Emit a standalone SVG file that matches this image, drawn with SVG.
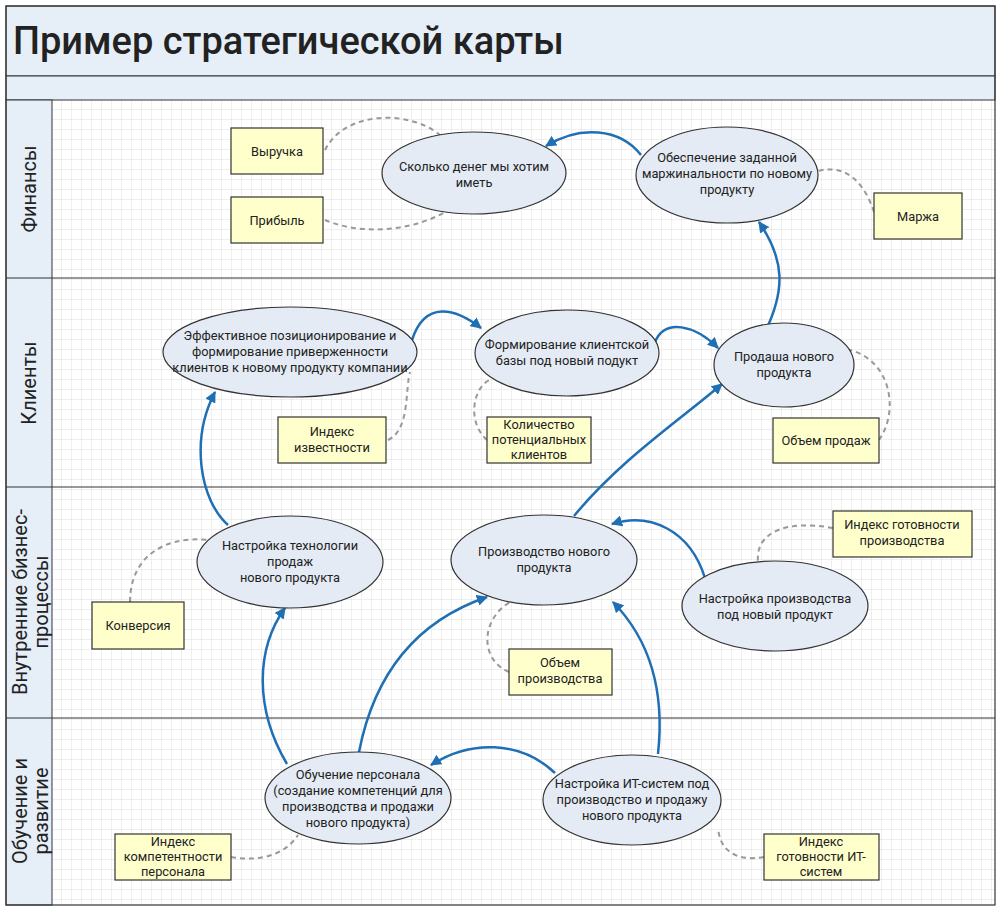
<svg xmlns="http://www.w3.org/2000/svg" width="1000" height="909" viewBox="0 0 1000 909">
<defs>
<pattern id="g" width="10" height="10" patternUnits="userSpaceOnUse" x="2" y="0"><path d="M10 0V10H0" fill="none" stroke="#d6d6d6" stroke-width="0.8"/></pattern>
<marker id="a" viewBox="0 0 10 10" refX="9" refY="5" markerWidth="4.5" markerHeight="4.5" orient="auto"><path d="M0 0L10 5L0 10z" fill="#1f6fb5"/></marker>
<style>
text{font-family:Roboto,"Liberation Sans",sans-serif;fill:#222;text-anchor:middle}
.n{font-size:12.8px}
.e{fill:#e4ebf4;stroke:#333;stroke-width:1.2}
.r{fill:#ffffcc;stroke:#333;stroke-width:1.2}
.b{fill:none;stroke:#1f6fb5;stroke-width:2.5;marker-end:url(#a)}
.d{fill:none;stroke:#999;stroke-width:2;stroke-dasharray:5 4}
.lane{font-size:20px}
</style>
</defs>
<rect width="1000" height="909" fill="#fff"/>
<rect x="52" y="100" width="943" height="805" fill="url(#g)"/>
<rect x="6" y="6" width="989" height="70" fill="#e6eef7" stroke="#333"/>
<rect x="6" y="76" width="989" height="24" fill="#e6eef7" stroke="#333"/>
<rect x="6" y="100" width="46" height="805" fill="#e6eef7" stroke="#333"/>
<rect x="6" y="6" width="989" height="899" fill="none" stroke="#333" stroke-width="1.2"/>
<g stroke="#333" stroke-width="1.2"><line x1="6" y1="278" x2="995" y2="278"/><line x1="6" y1="487" x2="995" y2="487"/><line x1="6" y1="718" x2="995" y2="718"/></g>
<text x="13" y="54" style="font-size:38px;font-weight:500;text-anchor:start">Пример стратегической карты</text>
<text class="lane" transform="translate(36,189) rotate(-90)">Финансы</text>
<text class="lane" transform="translate(36,383) rotate(-90)">Клиенты</text>
<text class="lane" transform="translate(27,602) rotate(-90)">Внутренние бизнес-</text>
<text class="lane" transform="translate(48,602) rotate(-90)">процессы</text>
<text class="lane" transform="translate(27,811) rotate(-90)">Обучение и</text>
<text class="lane" transform="translate(48,811) rotate(-90)">развитие</text>
<g id="connectors">
<path class="b" d="M641,155 C620,128 580,125 546,146"/>
<path class="b" d="M766,330 C785,290 785,260 759,222"/>
<path class="b" d="M412,340 C425,300 455,308 481,328"/>
<path class="b" d="M655,342 C665,318 695,325 718,348"/>
<path class="b" d="M228,525 C200,500 190,440 215,392"/>
<path class="b" d="M574,516 C620,460 680,420 722,384"/>
<path class="b" d="M705,578 C690,530 650,512 612,524"/>
<path class="b" d="M287,764 C255,710 255,650 285,608"/>
<path class="b" d="M359,752 C375,670 420,620 487,597"/>
<path class="b" d="M658,754 C665,690 650,640 613,602"/>
<path class="b" d="M555,773 C520,740 470,740 431,765"/>
<path class="d" d="M325,150 C345,110 410,110 440,135"/>
<path class="d" d="M325,220 C360,235 410,232 445,212"/>
<path class="d" d="M874,212 C860,170 835,165 815,172"/>
<path class="d" d="M388,440 C410,430 405,390 410,372"/>
<path class="d" d="M487,440 C465,420 475,385 490,380"/>
<path class="d" d="M879,440 C900,410 890,360 850,350"/>
<path class="d" d="M833,528 C790,520 755,530 758,562"/>
<path class="d" d="M130,602 C130,560 160,535 210,540"/>
<path class="d" d="M509,672 C480,660 480,620 510,602"/>
<path class="d" d="M231,857 C260,862 285,855 298,835"/>
<path class="d" d="M764,857 C735,862 720,850 718,828"/>
</g>
<g id="n1"><ellipse class="e" cx="474" cy="173" rx="92" ry="41"/><text class="n" x="474" y="171">Сколько денег мы хотим</text><text class="n" x="474" y="187">иметь</text></g>
<g id="n2"><ellipse class="e" cx="727" cy="175" rx="91" ry="48"/><text class="n" x="727" y="162">Обеспечение заданной</text><text class="n" x="727" y="178">маржинальности по новому</text><text class="n" x="727" y="194">продукту</text></g>
<g id="n3"><ellipse class="e" cx="290" cy="352" rx="127" ry="45"/><text class="n" x="290" y="340">Эффективное позиционирование и</text><text class="n" x="290" y="356">формирование приверженности</text><text class="n" x="290" y="372">клиентов к новому продукту компании</text></g>
<g id="n4"><ellipse class="e" cx="567" cy="353" rx="92" ry="43"/><text class="n" x="567" y="349">Формирование клиентской</text><text class="n" x="567" y="365">базы под новый подукт</text></g>
<g id="n5"><ellipse class="e" cx="784" cy="365" rx="70" ry="42"/><text class="n" x="784" y="361">Продаша нового</text><text class="n" x="784" y="377">продукта</text></g>
<g id="n6"><ellipse class="e" cx="290" cy="562" rx="93" ry="46"/><text class="n" x="290" y="550">Настройка технологии</text><text class="n" x="290" y="566">продаж</text><text class="n" x="290" y="582">нового продукта</text></g>
<g id="n7"><ellipse class="e" cx="544" cy="560" rx="93" ry="45"/><text class="n" x="544" y="556">Производство нового</text><text class="n" x="544" y="572">продукта</text></g>
<g id="n8"><ellipse class="e" cx="775" cy="606" rx="93" ry="45"/><text class="n" x="775" y="603">Настройка производства</text><text class="n" x="775" y="619">под новый продукт</text></g>
<g id="n9"><ellipse class="e" cx="358" cy="798" rx="93" ry="46"/><text class="n" x="358" y="779">Обучение персонала</text><text class="n" x="358" y="795">(создание компетенций для</text><text class="n" x="358" y="811">производства и продажи</text><text class="n" x="358" y="827">нового продукта)</text></g>
<g id="n10"><ellipse class="e" cx="632" cy="800" rx="89" ry="45"/><text class="n" x="632" y="788">Настройка ИТ-систем под</text><text class="n" x="632" y="804">производство и продажу</text><text class="n" x="632" y="820">нового продукта</text></g>
<g id="r1"><rect class="r" x="231" y="128" width="92" height="46"/><text class="n" x="277" y="156">Выручка</text></g>
<g id="r2"><rect class="r" x="231" y="197" width="92" height="46"/><text class="n" x="277" y="225">Прибыль</text></g>
<g id="r3"><rect class="r" x="874" y="193" width="88" height="46"/><text class="n" x="918" y="221">Маржа</text></g>
<g id="r4"><rect class="r" x="278" y="417" width="108" height="46"/><text class="n" x="332" y="436">Индекс</text><text class="n" x="332" y="452">известности</text></g>
<g id="r5"><rect class="r" x="487" y="417" width="104" height="46"/><text class="n" x="539" y="429">Количество</text><text class="n" x="539" y="444">потенциальных</text><text class="n" x="539" y="459">клиентов</text></g>
<g id="r6"><rect class="r" x="773" y="418" width="106" height="45"/><text class="n" x="826" y="445">Объем продаж</text></g>
<g id="r7"><rect class="r" x="833" y="511" width="139" height="46"/><text class="n" x="902" y="529">Индекс готовности</text><text class="n" x="902" y="545">производства</text></g>
<g id="r8"><rect class="r" x="92" y="602" width="92" height="47"/><text class="n" x="138" y="630">Конверсия</text></g>
<g id="r9"><rect class="r" x="509" y="649" width="103" height="46"/><text class="n" x="560" y="667">Объем</text><text class="n" x="560" y="683">производства</text></g>
<g id="r10"><rect class="r" x="115" y="834" width="116" height="46"/><text class="n" x="173" y="846">Индекс</text><text class="n" x="173" y="861">компетентности</text><text class="n" x="173" y="876">персонала</text></g>
<g id="r11"><rect class="r" x="764" y="834" width="115" height="46"/><text class="n" x="821" y="846">Индекс</text><text class="n" x="821" y="861">готовности ИТ-</text><text class="n" x="821" y="876">систем</text></g>
</svg>
